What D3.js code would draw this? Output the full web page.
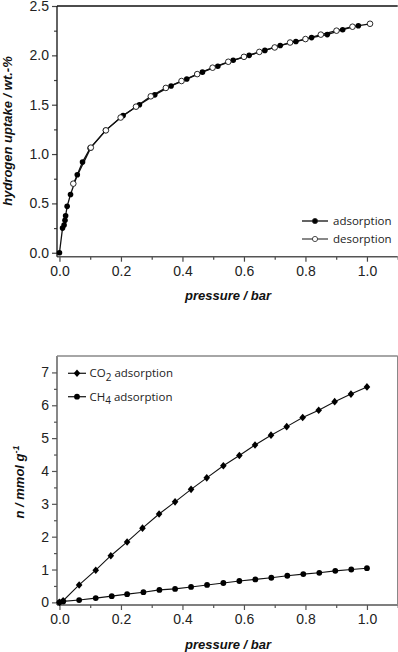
<!DOCTYPE html>
<meta charset="utf-8">
<style>
  body { margin: 0; background: #fff; }
  svg { display: block; }
  .tick text { font-family: "Liberation Sans", Arial, sans-serif; font-size: 14px; fill: #222; }
  .axisTitle { font-family: "Liberation Sans", Arial, sans-serif; font-size: 13px; font-weight: bold; font-style: italic; fill: #111; }
  .legend text { font-family: "Open Sans", sans-serif; font-size: 11.5px; fill: #222; }
</style>
<svg width="398" height="652"></svg>
<script src="https://d3js.org/d3.v7.min.js"></script>
<script>

// top chart: hydrogen uptake
var h2AdsP = [0, 0.010, 0.015, 0.018, 0.020, 0.025, 0.036, 0.058, 0.075, 0.100, 0.150, 0.207, 0.260, 0.310, 0.363, 0.414, 0.465, 0.515, 0.565, 0.617, 0.668, 0.718, 0.769, 0.820, 0.871, 0.921, 0.972];
var h2AdsN = [0, 0.25, 0.28, 0.33, 0.375, 0.47, 0.59, 0.79, 0.92, 1.06, 1.24, 1.39, 1.50, 1.60, 1.69, 1.76, 1.83, 1.89, 1.95, 2.00, 2.05, 2.10, 2.14, 2.18, 2.21, 2.26, 2.30];
var h2DesP = [1.010, 0.953, 0.901, 0.850, 0.800, 0.750, 0.700, 0.650, 0.600, 0.549, 0.498, 0.448, 0.397, 0.346, 0.297, 0.249, 0.199, 0.151, 0.102, 0.045];
var h2DesN = [2.32, 2.29, 2.25, 2.21, 2.165, 2.13, 2.08, 2.035, 1.985, 1.935, 1.875, 1.81, 1.74, 1.67, 1.585, 1.48, 1.37, 1.24, 1.065, 0.70];

// bottom chart: CO2 / CH4
var co2P = [0, 0.012, 0.064, 0.118, 0.167, 0.220, 0.270, 0.324, 0.376, 0.428, 0.479, 0.533, 0.585, 0.636, 0.688, 0.739, 0.791, 0.843, 0.895, 0.948, 1.000];
var co2N = [0, 0.05, 0.53, 0.98, 1.42, 1.84, 2.26, 2.69, 3.06, 3.44, 3.79, 4.16, 4.47, 4.79, 5.09, 5.35, 5.63, 5.85, 6.11, 6.34, 6.56];
var ch4P = [0, 0.012, 0.064, 0.118, 0.170, 0.220, 0.273, 0.325, 0.376, 0.428, 0.480, 0.533, 0.585, 0.637, 0.689, 0.741, 0.793, 0.845, 0.897, 0.949, 1.000];
var ch4N = [0, 0.03, 0.07, 0.13, 0.19, 0.25, 0.31, 0.38, 0.41, 0.47, 0.53, 0.59, 0.65, 0.70, 0.75, 0.81, 0.86, 0.90, 0.96, 1.00, 1.04];

var xTicks = [0, 0.2, 0.4, 0.6, 0.8, 1.0];
var xMinor = [0.1, 0.3, 0.5, 0.7, 0.9, 1.1];
var h2Ticks = [0, 0.5, 1.0, 1.5, 2.0, 2.5];
var h2Minor = [0.25, 0.75, 1.25, 1.75, 2.25];
var nTicks = [0, 1, 2, 3, 4, 5, 6, 7];
var nMinor = [0.5, 1.5, 2.5, 3.5, 4.5, 5.5, 6.5];

var svg = d3.select("svg");

function zip(a, b) { return a.map(function(v, i) { return [v, b[i]]; }); }

function drawAxes(g, x, y, yTicks, yMinor, yFmt, col, boxed) {
  var x0 = x.range()[0], x1 = x.range()[1], y0 = y.range()[0], y1 = y.range()[1];
  g.append("g").attr("transform", "translate(0," + y0 + ")")
      .call(d3.axisBottom(x).tickValues(xTicks).tickFormat(d3.format(".1f")).tickSize(5).tickPadding(4).tickSizeOuter(0));
  g.append("g").attr("transform", "translate(0," + y0 + ")")
      .call(d3.axisBottom(x).tickValues(xMinor).tickFormat("").tickSize(3).tickSizeOuter(0));
  g.append("g").attr("transform", "translate(" + x0 + ",0)")
      .call(d3.axisLeft(y).tickValues(yTicks).tickFormat(yFmt).tickSize(5).tickPadding(3).tickSizeOuter(0));
  g.append("g").attr("transform", "translate(" + x0 + ",0)")
      .call(d3.axisLeft(y).tickValues(yMinor).tickFormat("").tickSize(3).tickSizeOuter(0));
  g.selectAll(".domain").remove();
  g.selectAll(".tick line").attr("stroke", col.tick).attr("stroke-width", 1.2);
  // frame lines
  g.append("line").attr("x1", x0).attr("x2", x1).attr("y1", y0).attr("y2", y0).attr("stroke", col.bottom).attr("stroke-width", 1.4);
  g.append("line").attr("x1", x0).attr("x2", x0).attr("y1", y0).attr("y2", y1).attr("stroke", col.left).attr("stroke-width", 1.4);
  g.append("line").attr("x1", x0).attr("x2", x1).attr("y1", y1).attr("y2", y1).attr("stroke", col.top).attr("stroke-width", 1.4);
  if (boxed) {
    g.append("line").attr("x1", x1).attr("x2", x1).attr("y1", y0).attr("y2", y1).attr("stroke", col.top).attr("stroke-width", 1.4);
  }
}

var line = function(x, y) {
  return d3.line().x(function(d) { return x(d[0]); }).y(function(d) { return y(d[1]); });
};

// ---------- top chart ----------
var xT = d3.scaleLinear().domain([-0.008, 1.1]).range([57, 397.7]);
var yT = d3.scaleLinear().domain([-0.04, 2.5]).range([256.7, 6]);
var gT = svg.append("g");
drawAxes(gT, xT, yT, h2Ticks, h2Minor, d3.format(".1f"),
  {tick: "#444", bottom: "#555", left: "#222", top: "#111"}, false);

var ads = zip(h2AdsP, h2AdsN), des = zip(h2DesP, h2DesN);
gT.append("path").datum(ads).attr("d", line(xT, yT)).attr("fill", "none").attr("stroke", "#111").attr("stroke-width", 1.3);
gT.append("path").datum(des).attr("d", line(xT, yT)).attr("fill", "none").attr("stroke", "#111").attr("stroke-width", 1.3);
gT.selectAll(".ads").data(ads).enter().append("circle")
    .attr("cx", function(d) { return xT(d[0]); }).attr("cy", function(d) { return yT(d[1]); })
    .attr("r", 2.8).attr("fill", "#000");
gT.selectAll(".des").data(des).enter().append("circle")
    .attr("cx", function(d) { return xT(d[0]); }).attr("cy", function(d) { return yT(d[1]); })
    .attr("r", 2.8).attr("fill", "#fff").attr("stroke", "#111").attr("stroke-width", 0.9);

gT.append("text").attr("class", "axisTitle").attr("text-anchor", "middle")
    .attr("x", 228).attr("y", 300).text("pressure / bar");
gT.append("text").attr("class", "axisTitle").attr("text-anchor", "middle")
    .attr("transform", "translate(11.5,131) rotate(-90)").text("hydrogen uptake / wt.-%");

var legT = gT.append("g").attr("class", "legend");
[["adsorption", "#000", 221], ["desorption", "#fff", 239]].forEach(function(l) {
  legT.append("line").attr("x1", 302).attr("x2", 328).attr("y1", l[2]).attr("y2", l[2])
      .attr("stroke", l[1] == "#000" ? "#222" : "#555").attr("stroke-width", 1.4);
  legT.append("circle").attr("cx", 315).attr("cy", l[2]).attr("r", 2.6)
      .attr("fill", l[1]).attr("stroke", "#222").attr("stroke-width", 0.8);
  legT.append("text").attr("x", 333).attr("y", l[2] + 3.8).text(l[0]);
});

// ---------- bottom chart ----------
var xB = d3.scaleLinear().domain([-0.008, 1.1]).range([57, 397.7]);
var yB = d3.scaleLinear().domain([-0.08, 7.5]).range([605, 356]);
var gB = svg.append("g");
drawAxes(gB, xB, yB, nTicks, nMinor, d3.format("d"),
  {tick: "#555", bottom: "#555", left: "#555", top: "#888"}, true);

var co2 = zip(co2P, co2N), ch4 = zip(ch4P, ch4N);
gB.append("path").datum(co2).attr("d", line(xB, yB)).attr("fill", "none").attr("stroke", "#111").attr("stroke-width", 1.1);
gB.append("path").datum(ch4).attr("d", line(xB, yB)).attr("fill", "none").attr("stroke", "#111").attr("stroke-width", 1.1);

function diamond(cx, cy, w, h) {
  return "M" + cx + "," + (cy - h) + "L" + (cx + w) + "," + cy + "L" + cx + "," + (cy + h) + "L" + (cx - w) + "," + cy + "Z";
}
gB.selectAll(".co2").data(co2).enter().append("path")
    .attr("d", function(d) { return diamond(xB(d[0]), yB(d[1]), 3.3, 3.8); })
    .attr("fill", "#000");
gB.selectAll(".ch4").data(ch4).enter().append("circle")
    .attr("cx", function(d) { return xB(d[0]); }).attr("cy", function(d) { return yB(d[1]); })
    .attr("r", 2.9).attr("fill", "#000");

gB.append("text").attr("class", "axisTitle").attr("text-anchor", "middle")
    .attr("x", 228).attr("y", 649).text("pressure / bar");
var yTitle = gB.append("text").attr("class", "axisTitle").attr("text-anchor", "middle")
    .attr("transform", "translate(24,482) rotate(-90)");
yTitle.append("tspan").text("n / mmol g");
yTitle.append("tspan").attr("dy", -5).attr("font-size", "9px").text("-1");

var legB = gB.append("g").attr("class", "legend");
[["CO", "2", 373.3, "d"], ["CH", "4", 396.7, "c"]].forEach(function(l) {
  legB.append("line").attr("x1", 68).attr("x2", 86).attr("y1", l[2]).attr("y2", l[2])
      .attr("stroke", "#222").attr("stroke-width", 1.3);
  if (l[3] == "d") {
    legB.append("path").attr("d", diamond(77, l[2], 3.3, 3.8)).attr("fill", "#000");
  } else {
    legB.append("circle").attr("cx", 77).attr("cy", l[2]).attr("r", 2.9).attr("fill", "#000");
  }
  var t = legB.append("text").attr("x", 89.5).attr("y", l[2] + 3.8);
  t.append("tspan").text(l[0]);
  t.append("tspan").attr("dy", 3.5).attr("font-size", "10px").text(l[1]);
  t.append("tspan").attr("dy", -3.5).text(" adsorption");
});

</script>
